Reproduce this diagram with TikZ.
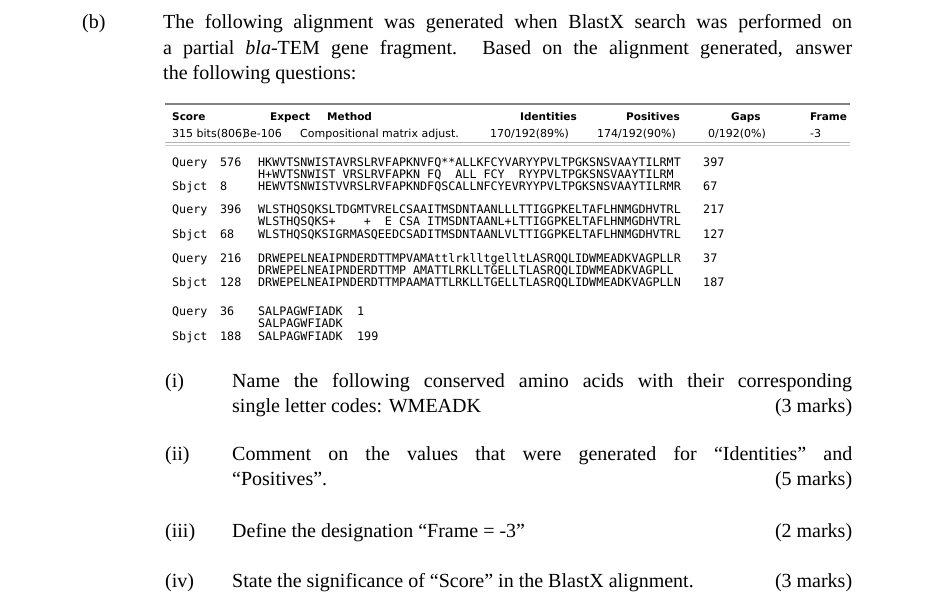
\documentclass[tikz,border=0pt]{standalone}
\usepackage{fontspec}
\setmainfont{Liberation Serif}
\newfontfamily\hdfont{DejaVu Sans}
\newfontfamily\seqfont{DejaVu Sans Mono}
\begin{document}
\begin{tikzpicture}[x=1pt,y=-1pt,
  body/.style={font=\fontsize{20}{25.5}\selectfont, inner sep=0pt},
  para/.style={body, text width=#1, align=justify, anchor=base west},
  hd/.style={font=\hdfont\bfseries\fontsize{10.5}{12}\selectfont, anchor=base west, inner sep=0pt},
  hv/.style={font=\hdfont\fontsize{11}{12}\selectfont, anchor=base west, inner sep=0pt},
  sq/.style={font=\seqfont\fontsize{11.7}{12}\selectfont, anchor=base west, inner sep=0pt}]
\useasboundingbox (0,0) rectangle (932,596);
\node[body, anchor=base west] (b) at (82,29) {(b)};
\node[para=689pt] (intro) at (163,29) {The following alignment was generated when BlastX search was performed on\linebreak a partial \textit{bla}-TEM gene fragment. Based on the alignment generated, answer\linebreak the following questions:};
% table
\draw[gray, line width=1.4pt] (165,104) -- (850,104);
\draw[gray!60, line width=0.8pt] (165,142) -- (850,142);
\draw[gray!40, line width=0.8pt] (165,145) -- (850,145);
\node[hd] (h1) at (172,121) {Score};
\node[hd] (h2) at (270,121) {Expect};
\node[hd] (h3) at (327,121) {Method};
\node[hd] (h4) at (520,121) {Identities};
\node[hd] (h5) at (626,121) {Positives};
\node[hd] (h6) at (731,121) {Gaps};
\node[hd] (h7) at (810,121) {Frame};
\node[hv] (v1) at (172,138) {315 bits(806)};
\node[hv] (v2) at (243,138) {3e-106};
\node[hv] (v3) at (300,138) {Compositional matrix adjust.};
\node[hv] (v4) at (490,138) {170/192(89\%)};
\node[hv] (v5) at (597,138) {174/192(90\%)};
\node[hv] (v6) at (708,138) {0/192(0\%)};
\node[hv] (v7) at (810,138) {-3};
% block 1
\node[sq] (q1) at (172,167) {Query}; \node[sq] (q1n) at (220,167) {576};
\node[sq] (q1s) at (258,167) {HKWVTSNWISTAVRSLRVFAPKNVFQ**ALLKFCYVARYYPVLTPGKSNSVAAYTILRMT};
\node[sq] (q1e) at (703,167) {397};
\node[sq] (m1) at (258,179) {H+WVTSNWIST~VRSLRVFAPKN~FQ~~ALL~FCY~~RYYPVLTPGKSNSVAAYTILRM};
\node[sq] (s1) at (172,191) {Sbjct}; \node[sq] (s1n) at (220,191) {8};
\node[sq] (s1s) at (258,191) {HEWVTSNWISTVVRSLRVFAPKNDFQSCALLNFCYEVRYYPVLTPGKSNSVAAYTILRMR};
\node[sq] (s1e) at (703,191) {67};
% block 2
\node[sq] (q2) at (172,214) {Query}; \node[sq] (q2n) at (220,214) {396};
\node[sq] (q2s) at (258,214) {WLSTHQSQKSLTDGMTVRELCSAAITMSDNTAANLLLTTIGGPKELTAFLHNMGDHVTRL};
\node[sq] (q2e) at (703,214) {217};
\node[sq] (m2) at (258,226) {WLSTHQSQKS+~~~~+~~E~CSA~ITMSDNTAANL+LTTIGGPKELTAFLHNMGDHVTRL};
\node[sq] (s2) at (172,239) {Sbjct}; \node[sq] (s2n) at (220,239) {68};
\node[sq] (s2s) at (258,239) {WLSTHQSQKSIGRMASQEEDCSADITMSDNTAANLVLTTIGGPKELTAFLHNMGDHVTRL};
\node[sq] (s2e) at (703,239) {127};
% block 3
\node[sq] (q3) at (172,262) {Query}; \node[sq] (q3n) at (220,262) {216};
\node[sq] (q3s) at (258,262) {DRWEPELNEAIPNDERDTTMPVAMAttlrklltgelltLASRQQLIDWMEADKVAGPLLR};
\node[sq] (q3e) at (703,262) {37};
\node[sq] (m3) at (258,274) {DRWEPELNEAIPNDERDTTMP~AMATTLRKLLTGELLTLASRQQLIDWMEADKVAGPLL};
\node[sq] (s3) at (172,287) {Sbjct}; \node[sq] (s3n) at (220,287) {128};
\node[sq] (s3s) at (258,287) {DRWEPELNEAIPNDERDTTMPAAMATTLRKLLTGELLTLASRQQLIDWMEADKVAGPLLN};
\node[sq] (s3e) at (703,287) {187};
% block 4
\node[sq] (q4) at (172,315) {Query}; \node[sq] (q4n) at (220,315) {36};
\node[sq] (q4s) at (258,315) {SALPAGWFIADK};
\node[sq] (q4e) at (357,315) {1};
\node[sq] (m4) at (258,327) {SALPAGWFIADK};
\node[sq] (s4) at (172,340) {Sbjct}; \node[sq] (s4n) at (220,340) {188};
\node[sq] (s4s) at (258,340) {SALPAGWFIADK};
\node[sq] (s4e) at (357,340) {199};
% questions
\node[body, anchor=base west] (i) at (165,387) {(i)};
\node[para=620pt] (qi) at (232,387) {Name the following conserved amino acids with their corresponding\linebreak single letter codes: WMEADK \hfill (3 marks)};
\node[body, anchor=base west] (ii) at (165,460) {(ii)};
\node[para=620pt] (qii) at (232,460) {Comment on the values that were generated for “Identities” and\linebreak “Positives”. \hfill (5 marks)};
\node[body, anchor=base west] (iii) at (165,537) {(iii)};
\node[para=620pt] (qiii) at (232,537) {Define the designation “Frame = -3” \hfill (2 marks)};
\node[body, anchor=base west] (iv) at (165,587) {(iv)};
\node[para=620pt] (qiv) at (232,587) {State the significance of “Score” in the BlastX alignment. \hfill (3 marks)};
\end{tikzpicture}
\end{document}
